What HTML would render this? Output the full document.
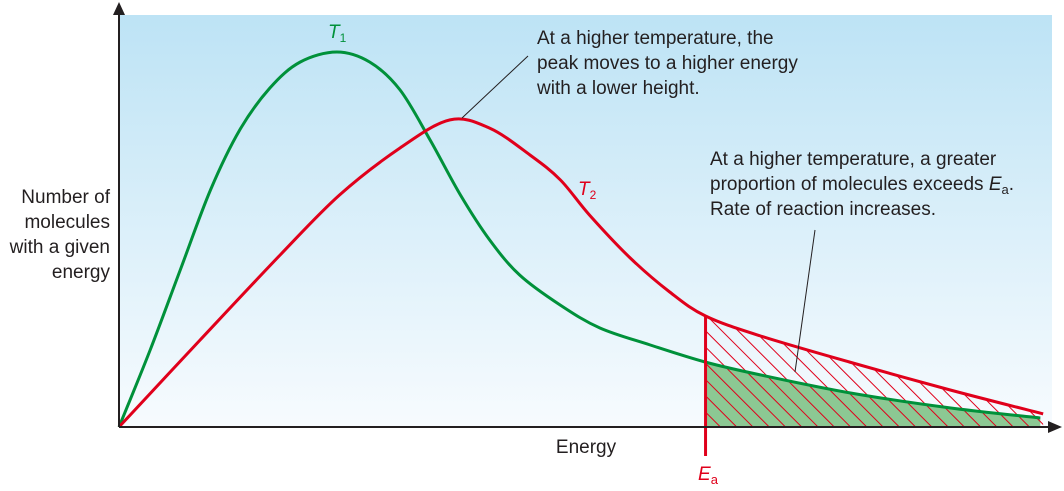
<!DOCTYPE html>
<html><head><meta charset="utf-8"><style>
html,body{margin:0;padding:0;background:#fff;}
svg{display:block;}
text{font-family:"Liberation Sans Narrow","Liberation Sans",sans-serif;font-size:19px;fill:#231f20;}
</style></head><body>
<svg id="chart" width="1064" height="491" viewBox="0 0 1064 491" xmlns="http://www.w3.org/2000/svg">
<defs>
<linearGradient id="bg" x1="0" y1="0" x2="0" y2="1">
<stop offset="0" stop-color="#bde3f5"/><stop offset="1" stop-color="#f7fbfe"/>
</linearGradient>
<pattern id="hatch" patternUnits="userSpaceOnUse" width="11.5" height="16" patternTransform="rotate(-45)">
<line x1="0" y1="0" x2="0" y2="16" stroke="#e0001b" stroke-width="2"/>
</pattern>
<clipPath id="clipEa"><rect x="706" y="0" width="400" height="427"/></clipPath>
</defs>
<rect x="119" y="15" width="933" height="412" fill="url(#bg)"/>
<g id="marks"></g>
<line x1="119" y1="427" x2="119" y2="12" stroke="#231f20" stroke-width="2"/>
<polygon points="113,15 125,15 119,2" fill="#231f20"/>
<line x1="119" y1="427" x2="1052" y2="427" stroke="#231f20" stroke-width="2"/>
<polygon points="1048,421 1048,433 1062,427" fill="#231f20"/>
<text text-anchor="end"><tspan x="110" y="203">Number of</tspan><tspan x="110" y="228">molecules</tspan><tspan x="110" y="253">with a given</tspan><tspan x="110" y="278">energy</tspan></text>
<text x="586" y="453" text-anchor="middle">Energy</text>
<text x="328" y="38" style="fill:#00913a;font-style:italic">T<tspan dy="4" font-size="12" font-style="normal">1</tspan></text>
<text x="578" y="195" style="fill:#e0001b;font-style:italic">T<tspan dy="4" font-size="12" font-style="normal">2</tspan></text>
<text x="698" y="480" style="fill:#e0001b;font-style:italic">E<tspan dy="4" font-size="13" font-style="normal">a</tspan></text>
<text><tspan x="537" y="44">At a higher temperature, the</tspan><tspan x="537" y="69">peak moves to a higher energy</tspan><tspan x="537" y="94">with a lower height.</tspan></text>
<line x1="528" y1="56" x2="462" y2="118" stroke="#231f20" stroke-width="1"/>
<text><tspan x="710" y="165">At a higher temperature, a greater</tspan><tspan x="710" y="190">proportion of molecules exceeds <tspan font-style="italic">E</tspan><tspan dy="4" font-size="13">a</tspan><tspan dy="-4">.</tspan></tspan><tspan x="710" y="215">Rate of reaction increases.</tspan></text>
<line x1="815" y1="230" x2="795" y2="372" stroke="#231f20" stroke-width="1"/>
</svg>
<script>
const energiesT1 = [0,0.33,0.65,0.97,1.28,1.6,1.92,2.31,2.66,2.98,3.3,3.62,3.93,4.25,4.68,5.1,5.63,6.22,6.8,7.75,8.81,9.77];
const valuesT1 = [0,20.5,41.9,63.2,79.2,90.4,97.3,100,97.3,89.9,76.5,61.9,49.9,40.5,32.5,26.4,21.9,17.3,13.9,9.1,5.1,2.4];
const energiesT2 = [0,0.86,1.71,2.34,2.98,3.51,3.93,4.36,4.68,4.99,5.42,5.84,6.22,6.8,7.75,8.81,9.8];
const valuesT2 = [0,23.2,45.9,61.9,74.4,81.9,79.7,72.5,65.9,56.5,45.1,36,29.6,24.3,17.3,9.9,3.5];
const activationEnergy = [6.22];
const xs = e => 119 + e * 94.3;
const ys = v => 427 - v * 3.75;
function smooth(pts){
  let d = 'M' + pts[0][0] + ',' + pts[0][1];
  for (let i = 0; i < pts.length - 1; i++) {
    const p0 = pts[i-1] || pts[i], p1 = pts[i], p2 = pts[i+1], p3 = pts[i+2] || p2;
    const c1 = [p1[0] + (p2[0]-p0[0])/6, p1[1] + (p2[1]-p0[1])/6];
    const c2 = [p2[0] - (p3[0]-p1[0])/6, p2[1] - (p3[1]-p1[1])/6];
    d += ' C' + c1[0] + ',' + c1[1] + ' ' + c2[0] + ',' + c2[1] + ' ' + p2[0] + ',' + p2[1];
  }
  return d;
}
const NS = 'http://www.w3.org/2000/svg';
const g = document.getElementById('marks');
const p1 = energiesT1.map((e,i)=>[xs(e), ys(valuesT1[i])]);
const p2 = energiesT2.map((e,i)=>[xs(e), ys(valuesT2[i])]);
const d1 = smooth(p1), d2 = smooth(p2);
const last1 = p1[p1.length-1], last2 = p2[p2.length-1];
const eaX = xs(activationEnergy[0]);
const gf = document.createElementNS(NS,'path');
gf.setAttribute('d', d1 + ' L' + last1[0] + ',427 L119,427 Z');
gf.setAttribute('fill','#8cc893');
gf.setAttribute('clip-path','url(#clipEa)');


g.appendChild(gf);
const hf = document.createElementNS(NS,'path');
hf.setAttribute('d', d2 + ' L' + last2[0] + ',427 L119,427 Z');
hf.setAttribute('fill','url(#hatch)');
hf.setAttribute('clip-path','url(#clipEa)');


g.appendChild(hf);
const c1 = document.createElementNS(NS,'path');
c1.setAttribute('d', d1);
c1.setAttribute('fill','none'); c1.setAttribute('stroke','#00913a'); c1.setAttribute('stroke-width','3');


g.appendChild(c1);
const c2 = document.createElementNS(NS,'path');
c2.setAttribute('d', d2);
c2.setAttribute('fill','none'); c2.setAttribute('stroke','#e0001b'); c2.setAttribute('stroke-width','3');


g.appendChild(c2);
const eaY = (function(){ for (let i=0;i<energiesT2.length-1;i++){ if (energiesT2[i]<=activationEnergy[0] && energiesT2[i+1]>=activationEnergy[0]){ const t=(activationEnergy[0]-energiesT2[i])/(energiesT2[i+1]-energiesT2[i]); return ys(valuesT2[i]+t*(valuesT2[i+1]-valuesT2[i])); } } return 427; })();
const eal = document.createElementNS(NS,'line');
eal.setAttribute('x1', eaX); eal.setAttribute('x2', eaX);
eal.setAttribute('y1', eaY); eal.setAttribute('y2', 456);
eal.setAttribute('stroke','#e0001b'); eal.setAttribute('stroke-width','3');


g.appendChild(eal);
</script>
</body></html>
